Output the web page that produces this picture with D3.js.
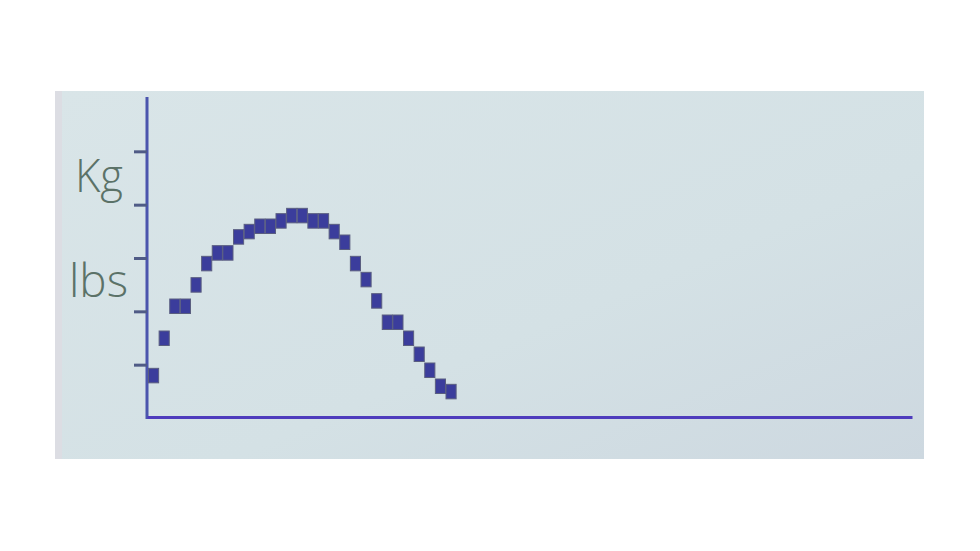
<!DOCTYPE html>
<html>
<head>
<meta charset="utf-8">
<script src="https://cdn.jsdelivr.net/npm/d3@7"></script>
<style>
  html, body { margin: 0; padding: 0; background: #ffffff; }
  svg { display: block; }
</style>
</head>
<body>
<div id="chart"></div>
<script>
const width = 980;
const height = 551;

// force readings, one per sample (LCD rows above the baseline)
const samples = [8, 15, 21, 21, 25, 29, 31, 31, 34, 35, 36, 36, 37, 38, 38,
                 37, 37, 35, 33, 29, 26, 22, 18, 18, 15, 12, 9, 6, 5];
const tickValues = [10, 20, 30, 40, 50];
const unitLabels = ["Kg", "lbs"];

const svg = d3.select("#chart").append("svg")
    .attr("width", width)
    .attr("height", height);

// the lcd screen
const defs = svg.append("defs");
const grad = defs.append("linearGradient")
    .attr("id", "screen")
    .attr("x1", 0).attr("y1", 0).attr("x2", 1).attr("y2", 1);
grad.append("stop").attr("offset", "0%").attr("stop-color", "#d9e5e8");
grad.append("stop").attr("offset", "60%").attr("stop-color", "#d4e1e5");
grad.append("stop").attr("offset", "100%").attr("stop-color", "#cdd8e0");

svg.append("rect")
    .attr("x", 55).attr("y", 91)
    .attr("width", 869).attr("height", 368)
    .attr("fill", "url(#screen)");
svg.append("rect")
    .attr("x", 55).attr("y", 91)
    .attr("width", 7).attr("height", 368)
    .attr("fill", "#dcdde3");

const x = d3.scaleLinear().domain([0, 72]).range([147, 912]);
const y = d3.scaleLinear().domain([0, 60]).range([418, 98]);

const yAxis = d3.axisLeft(y)
    .tickValues(tickValues)
    .tickSize(13)
    .tickSizeOuter(0)
    .tickFormat("");

const yG = svg.append("g")
    .attr("transform", "translate(147,0)")
    .call(yAxis);
yG.select(".domain").attr("stroke", "#4b55ad").attr("stroke-width", 3)
    .attr("d", `M0,${y(0) + 1}V97`);
yG.selectAll(".tick line").attr("stroke", "#4f5b86").attr("stroke-width", 3);

const xAxis = d3.axisBottom(x).ticks(0).tickSizeOuter(0);
const xG = svg.append("g")
    .attr("transform", `translate(0,${y(0) - 1})`)
    .call(xAxis);
xG.select(".domain").attr("stroke", "#4e3cbd").attr("stroke-width", 3);

// unit labels
svg.append("text")
    .attr("x", 75).attr("y", 192)
    .attr("textLength", 48).attr("lengthAdjust", "spacingAndGlyphs")
    .style("font-family", "'Open Sans'")
    .style("font-weight", 300)
    .style("font-size", "46px")
    .attr("fill", "#5b7268")
    .text(unitLabels[0]);

svg.append("text")
    .attr("x", 69).attr("y", 297)
    .attr("textLength", 59).attr("lengthAdjust", "spacingAndGlyphs")
    .style("font-family", "'Open Sans'")
    .style("font-weight", 300)
    .style("font-size", "46px")
    .attr("fill", "#5b7268")
    .text(unitLabels[1]);

// the curve, drawn as lcd blocks
const step = x(1) - x(0);
svg.append("g")
    .selectAll("rect")
    .data(samples)
    .enter()
    .append("rect")
    .attr("x", (d, i) => x(i) + 1.5)
    .attr("y", d => y(d) - 7)
    .attr("width", step - 0.5)
    .attr("height", 14.5)
    .attr("fill", "#3b3d9c")
    .attr("stroke", "#5a5e80")
    .attr("stroke-width", 1);
</script>
</body>
</html>
